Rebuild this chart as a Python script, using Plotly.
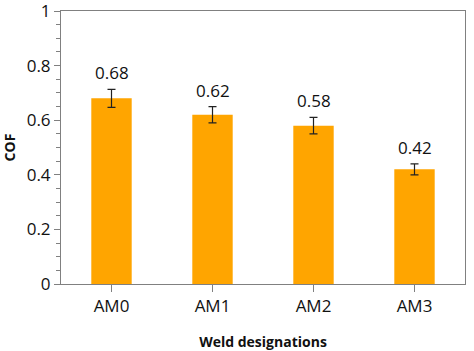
import plotly.graph_objects as go

categories = ["AM0", "AM1", "AM2", "AM3"]
cof = [0.68, 0.62, 0.58, 0.42]
cof_err = [0.033, 0.03, 0.03, 0.02]
labels = ["0.68", "0.62", "0.58", "0.42"]
y_ticks = [0, 0.2, 0.4, 0.6, 0.8, 1]
y_tick_labels = ["0", "0.2", "0.4", "0.6", "0.8", "1"]

font_family = "Open Sans, Lato, sans-serif"
axis_color = "#808080"

fig = go.Figure()
fig.add_trace(go.Bar(
    x=categories, y=cof,
    marker=dict(color="#FFA500", line=dict(width=0)),
    width=0.4,
    error_y=dict(type="data", array=cof_err, visible=True,
                 color="#222222", thickness=1.2, width=4),
))

for c, v, e, t in zip(categories, cof, cof_err, labels):
    fig.add_annotation(x=c, y=v + e, text=t, showarrow=False,
                       yanchor="bottom", yshift=3,
                       font=dict(family=font_family, size=17, color="#111111"))

fig.update_layout(
    width=474, height=351,
    margin=dict(l=61, r=9, t=11, b=67),
    plot_bgcolor="white", paper_bgcolor="white",
    showlegend=False,
    bargap=0.6,
    font=dict(family=font_family, size=17, color="#111111"),
)
fig.update_yaxes(
    range=[0, 1], tickvals=y_ticks, ticktext=y_tick_labels,
    ticklabeloverflow="allow", automargin=False,
    showgrid=False, zeroline=False,
    showline=True, linecolor=axis_color, linewidth=1, mirror=True,
    ticks="outside", ticklen=6, tickcolor=axis_color,
    minor=dict(dtick=0.05, ticks="outside", ticklen=4, tickcolor=axis_color),
    title=dict(text="<b>COF</b>", font=dict(size=14, family=font_family), standoff=8),
    tickfont=dict(size=17),
)
fig.update_xaxes(
    automargin=False,
    showgrid=False,
    showline=True, linecolor=axis_color, linewidth=1, mirror=True,
    ticks="outside", ticklen=7, tickcolor=axis_color,
    title=dict(text="<b>Weld designations</b>", font=dict(size=14, family=font_family), standoff=20),
    tickfont=dict(size=17),
)

fig.write_html("out.html")
